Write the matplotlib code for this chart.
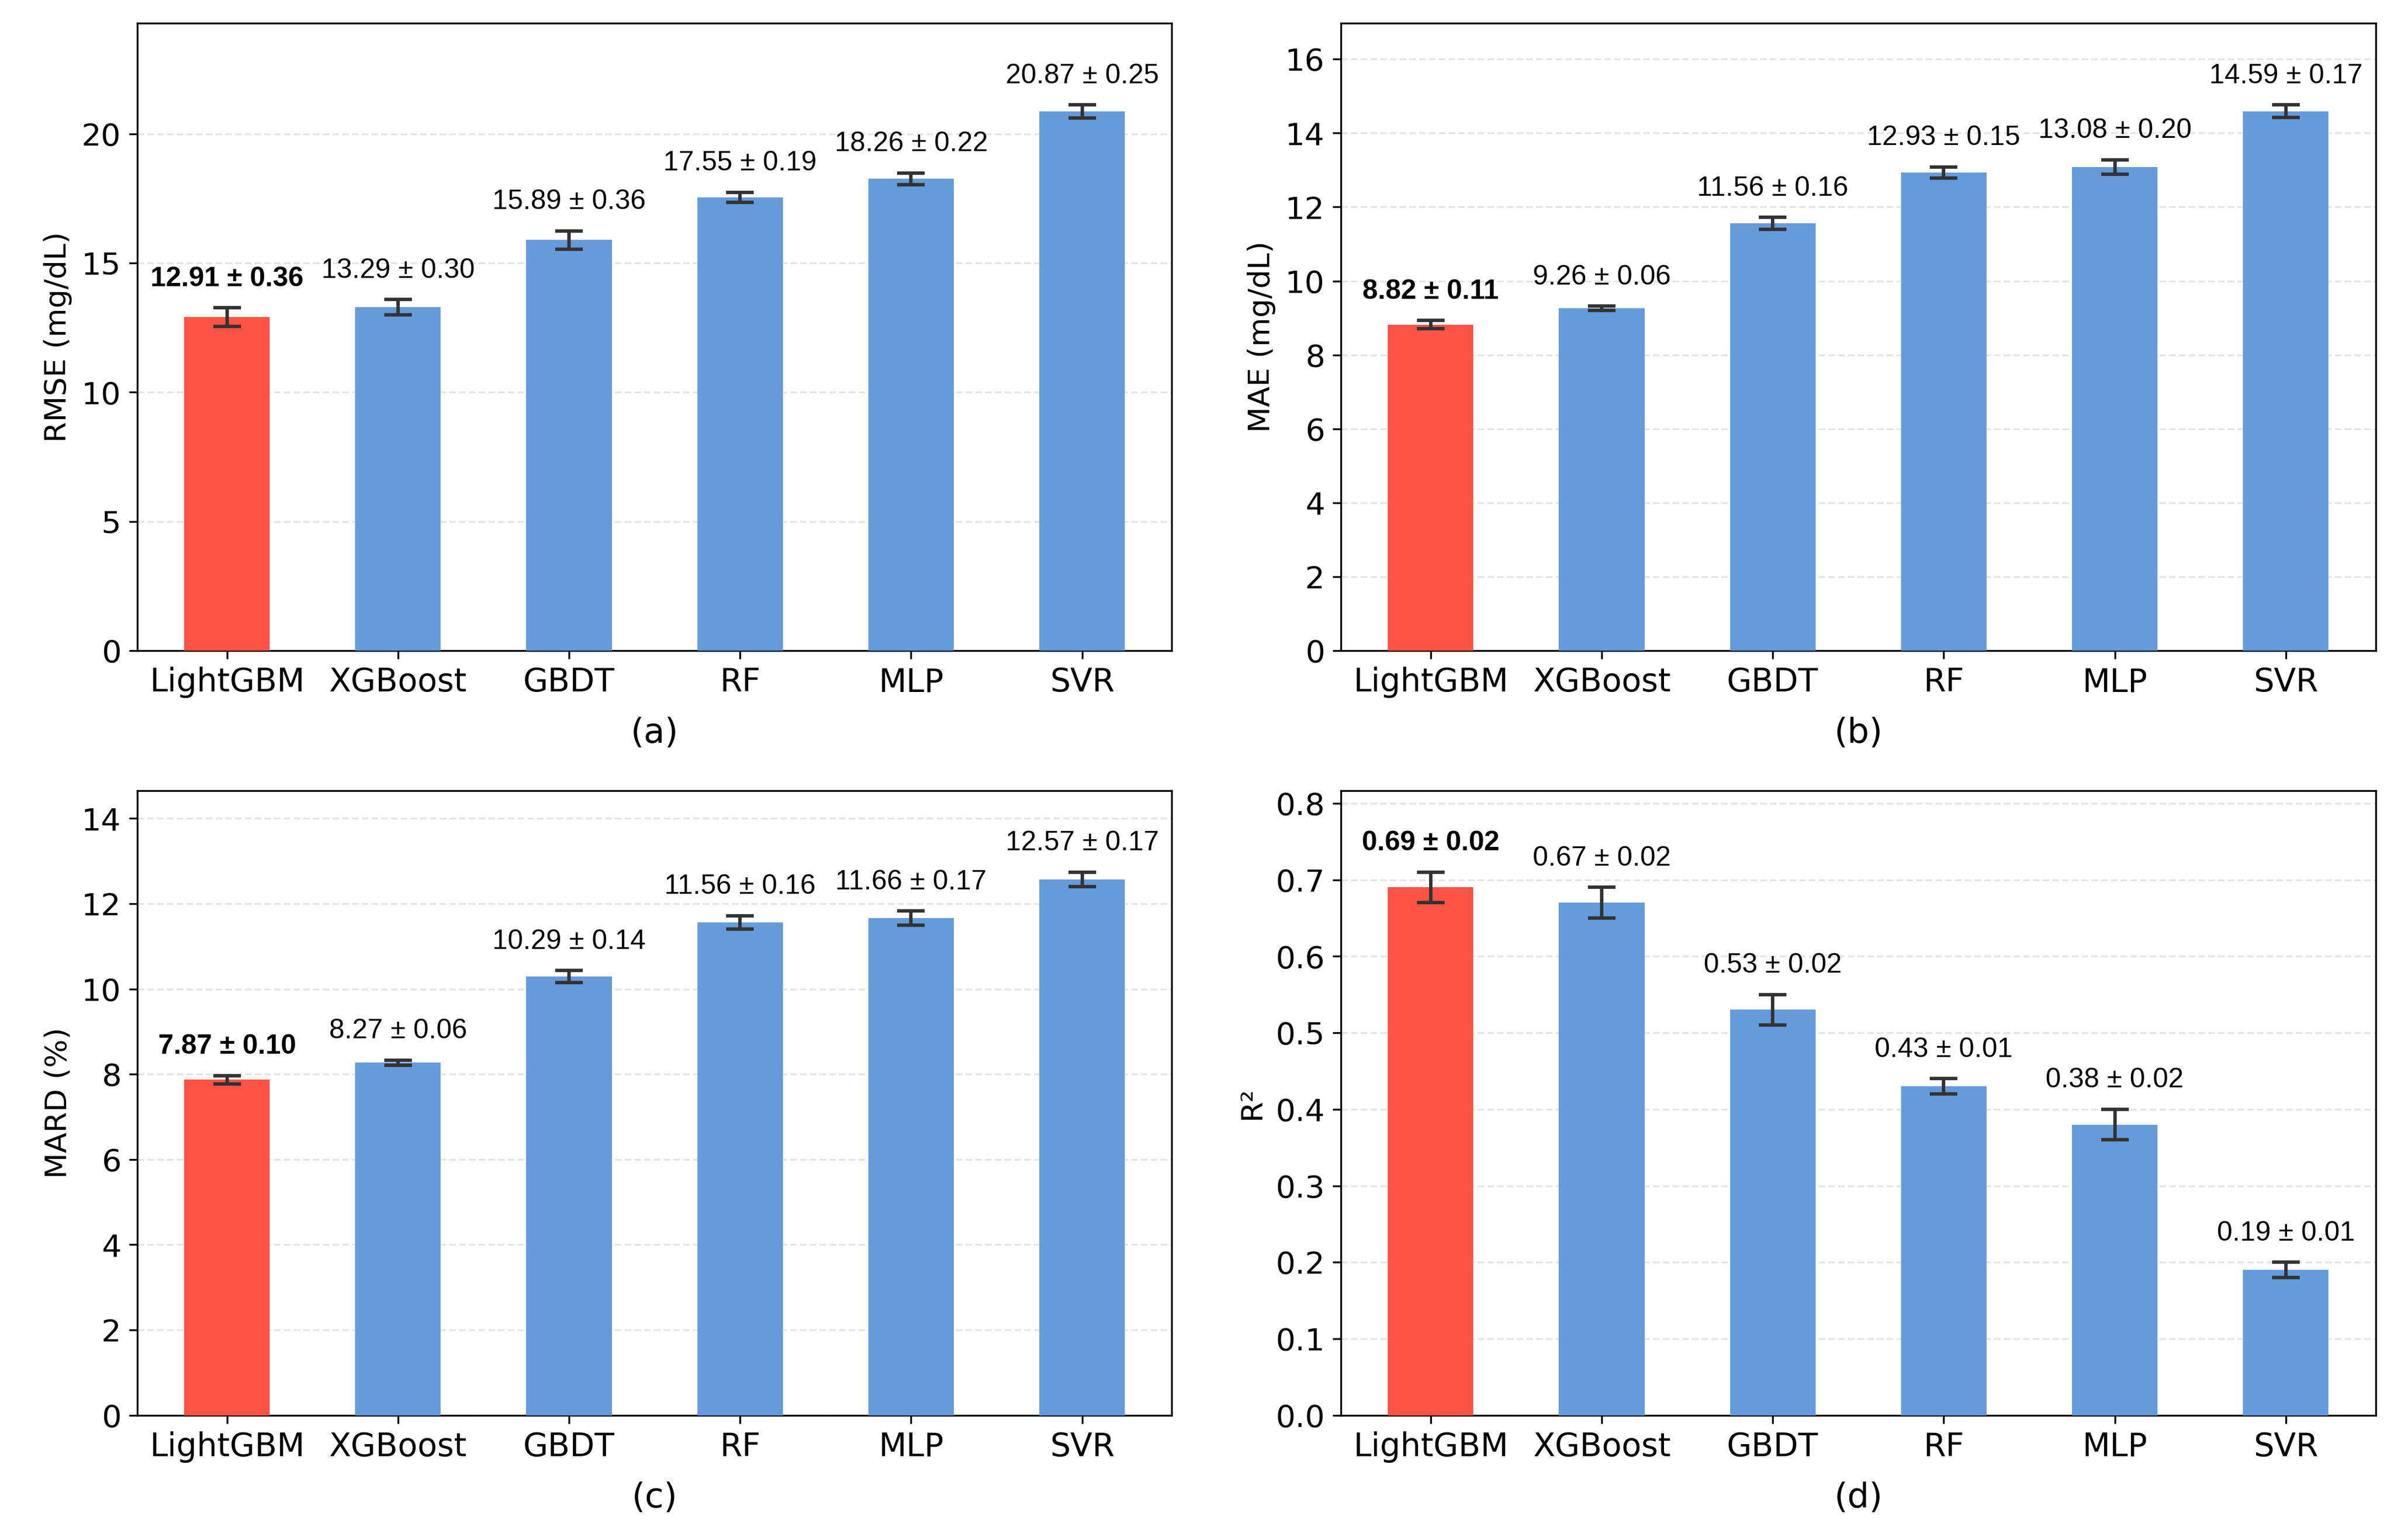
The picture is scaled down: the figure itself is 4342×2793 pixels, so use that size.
import numpy as np
import matplotlib.pyplot as plt

models = ['LightGBM', 'XGBoost', 'GBDT', 'RF', 'MLP', 'SVR']

rmse_mean = [12.91, 13.29, 15.89, 17.55, 18.26, 20.87]
rmse_std = [0.36, 0.30, 0.36, 0.19, 0.22, 0.25]
mae_mean = [8.82, 9.26, 11.56, 12.93, 13.08, 14.59]
mae_std = [0.11, 0.06, 0.16, 0.15, 0.20, 0.17]
mard_mean = [7.87, 8.27, 10.29, 11.56, 11.66, 12.57]
mard_std = [0.10, 0.06, 0.14, 0.16, 0.17, 0.17]
r2_mean = [0.69, 0.67, 0.53, 0.43, 0.38, 0.19]
r2_std = [0.02, 0.02, 0.02, 0.01, 0.02, 0.01]

panels = [
    (rmse_mean, rmse_std, 'RMSE (mg/dL)', '(a)'),
    (mae_mean, mae_std, 'MAE (mg/dL)', '(b)'),
    (mard_mean, mard_std, 'MARD (%)', '(c)'),
    (r2_mean, r2_std, 'R²', '(d)'),
]

best_color = '#fe5246'
other_color = '#659bdb'

fig = plt.figure(figsize=(4342 / 300, 2793 / 300), dpi=300)
rects = [
    [0.0573, 0.5775, 0.4322, 0.4075],
    [0.5601, 0.5775, 0.4322, 0.4075],
    [0.0573, 0.0810, 0.4322, 0.4056],
    [0.5601, 0.0810, 0.4322, 0.4056],
]

for rect, (mean, std, ylabel, tag) in zip(rects, panels):
    ax = fig.add_axes(rect)
    x = np.arange(len(models))
    colors = [best_color] + [other_color] * (len(models) - 1)
    ax.bar(x, mean, width=0.5, color=colors, yerr=std, capsize=6,
           error_kw=dict(ecolor='#333333', elinewidth=1.5, capthick=1.5),
           zorder=3)
    top = max(m + s for m, s in zip(mean, std)) * 1.15
    ax.set_ylim(0, top)
    for i, (m, s) in enumerate(zip(mean, std)):
        txt = f'{m:.2f} ± {s:.2f}'
        ax.text(i, m + s + top * 0.026, txt, ha='center', va='bottom',
                fontsize=12, family='Liberation Sans',
                fontweight='bold' if i == 0 else 'normal')
    ax.set_xticks(x)
    ax.set_xticklabels(models)
    ax.tick_params(axis='x', labelsize=14)
    ax.tick_params(axis='y', labelsize=13.5)
    ax.set_ylabel(ylabel, fontsize=13)
    ax.set_xlabel(tag, fontsize=15, labelpad=8)
    ax.yaxis.grid(True, linestyle='--', color='#d9d9d9', alpha=0.7, zorder=0)
    ax.set_axisbelow(True)

fig.savefig('out.png', dpi=300)
